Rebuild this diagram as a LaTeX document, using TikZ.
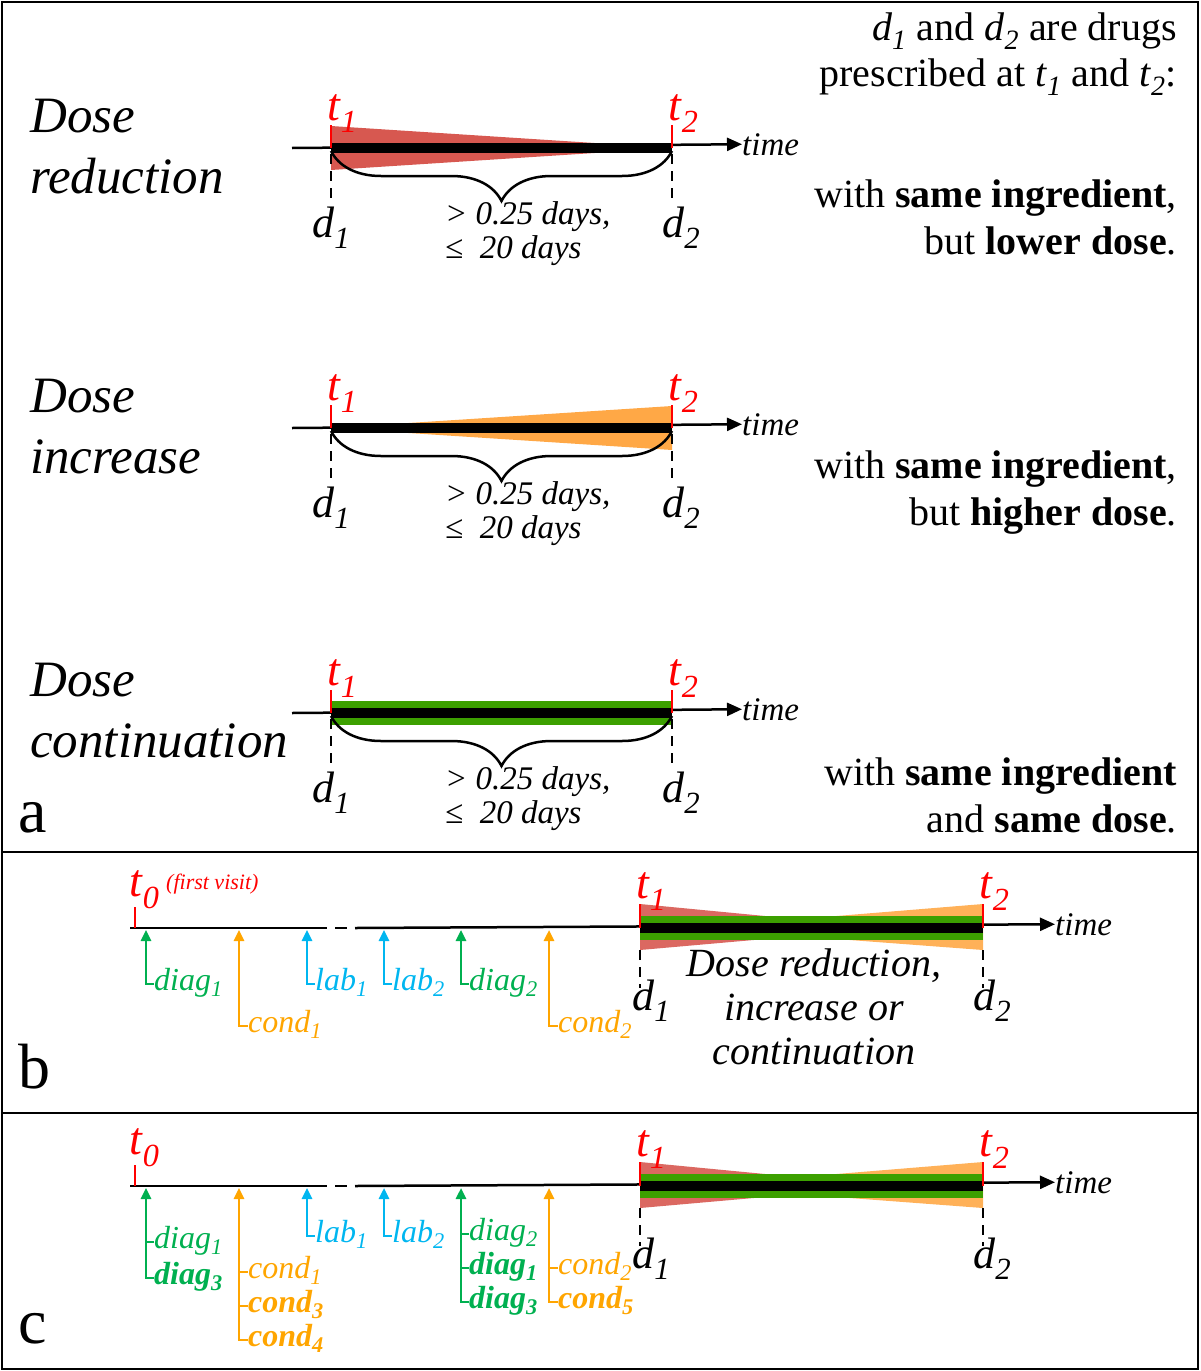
\documentclass[tikz,border=0pt]{standalone}
\usepackage{fontspec}
\setmainfont{Liberation Serif}
\usetikzlibrary{arrows.meta, positioning, decorations.pathreplacing}
\definecolor{tred}{RGB}{255,0,0}
\definecolor{wedgered}{RGB}{215,88,80}
\definecolor{wedgeorange}{RGB}{255,168,70}
\definecolor{bargreen}{RGB}{60,160,0}
\definecolor{dgreen}{RGB}{0,176,80}
\definecolor{corange}{RGB}{255,165,0}
\definecolor{lblue}{RGB}{0,182,240}
\newcommand{\fsz}[2]{\fontsize{#1}{#2}\selectfont}
\newcommand{\isub}[2]{\textit{#1}\textsubscript{\textit{#2}}}
\newcommand{\bsub}[2]{\textbf{\textit{#1}}\textsubscript{\textbf{\textit{#2}}}}
\tikzstyle{frame} = [draw, line width=2.5pt]
\tikzstyle{timeaxis} = [draw, line width=2.5pt, -{Triangle[length=15pt,width=13pt]}]
\tikzstyle{tbar} = [draw=tred, line width=2.5pt]
\tikzstyle{dropline} = [draw, line width=2.5pt, dash pattern=on 10pt off 7pt]
\tikzstyle{dosebar} = [draw, line width=10pt]
\tikzstyle{gapbrace} = [draw, line width=2.5pt, decorate, decoration={brace, mirror, amplitude=50pt}]
\tikzstyle{tlabel} = [text=tred, inner sep=0pt, anchor=base west, font=\fsz{46}{50}]
\tikzstyle{dlabel} = [inner sep=0pt, anchor=base west, font=\fsz{44}{50}]
\tikzstyle{timelabel} = [inner sep=0pt, anchor=base west, font=\fsz{33}{40}\itshape]
\tikzstyle{rowtitle} = [inner sep=0pt, anchor=base west, align=left, font=\fsz{51}{61}\itshape]
\tikzstyle{note} = [inner sep=0pt, anchor=base east, align=right, font=\fsz{40}{47}]
\tikzstyle{gaptext} = [inner sep=0pt, anchor=base west, align=left, font=\fsz{33}{34}\itshape]
\tikzstyle{event} = [inner sep=0pt, anchor=west, text height=22pt, text depth=10pt, font=\fsz{32}{34}\itshape]
\tikzstyle{eventarrow} = [draw, line width=2.5pt, -{Triangle[length=11pt,width=10pt]}]
\tikzstyle{stub} = [draw, line width=2.5pt]
\tikzstyle{panel} = [inner sep=0pt, anchor=base west, font=\fsz{64}{70}]

\begin{document}
\begin{tikzpicture}[x=1pt,y=-1pt]
\useasboundingbox (0,0) rectangle (1200,1371);
\draw[frame] (2,2) rectangle (1198,852);
\draw[frame] (2,852) rectangle (1198,1113);
\draw[frame] (2,1113) rectangle (1198,1369);

\node[note, font=\fsz{40}{46}] (anote) at (1177,86) {\isub{d}{1} and \isub{d}{2} are drugs\\prescribed at \isub{t}{1} and \isub{t}{2}:};
\node[panel] (apanel) at (18,832) {a};

\node[rowtitle] (redtitle) at (30,193) {Dose\\reduction};
\coordinate (reds) at (331,148);
\coordinate (rede) at (672,148);
\node[timelabel] (redtime) at (742,155) {time};
\draw[timeaxis] (292,148) -- (redtime.west);
\fill[wedgered] (331,126) -- (331,170) -- (672,148) -- cycle;
\draw[dosebar] (reds) -- (rede);
\draw[tbar] (reds) -- ++(0,-23);
\draw[tbar] (rede) -- ++(0,-23);
\node[tlabel] (redt1) at (327,120) {\isub{t}{1}};
\node[tlabel] (redt2) at (668,120) {\isub{t}{2}};
\draw[dropline] (reds) ++(0,6) -- ++(0,48);
\draw[dropline] (rede) ++(0,6) -- ++(0,48);
\draw[gapbrace] ([yshift=-3pt]reds) -- ([yshift=-3pt]rede);
\node[dlabel] (redd1) at (312,237) {\isub{d}{1}};
\node[dlabel] (redd2) at (662,237) {\isub{d}{2}};
\node[gaptext] (redgap) at (445,258) {> 0.25 days,\\≤\ \ 20 days};
\node[note] (rednote) at (1177,254) {with \textbf{same ingredient},\\but \textbf{lower dose}.};

\node[rowtitle] (inctitle) at (30,473) {Dose\\increase};
\coordinate (incs) at (331,428);
\coordinate (ince) at (672,428);
\node[timelabel] (inctime) at (742,435) {time};
\draw[timeaxis] (292,428) -- (inctime.west);
\fill[wedgeorange] (672,406) -- (672,450) -- (331,428) -- cycle;
\draw[dosebar] (incs) -- (ince);
\draw[tbar] (incs) -- ++(0,-23);
\draw[tbar] (ince) -- ++(0,-23);
\node[tlabel] (inct1) at (327,400) {\isub{t}{1}};
\node[tlabel] (inct2) at (668,400) {\isub{t}{2}};
\draw[dropline] (incs) ++(0,6) -- ++(0,48);
\draw[dropline] (ince) ++(0,6) -- ++(0,48);
\draw[gapbrace] ([yshift=-3pt]incs) -- ([yshift=-3pt]ince);
\node[dlabel] (incd1) at (312,517) {\isub{d}{1}};
\node[dlabel] (incd2) at (662,517) {\isub{d}{2}};
\node[gaptext] (incgap) at (445,538) {> 0.25 days,\\≤\ \ 20 days};
\node[note] (incnote) at (1177,525) {with \textbf{same ingredient},\\but \textbf{higher dose}.};

\node[rowtitle] (contitle) at (30,757) {Dose\\continuation};
\coordinate (cons) at (331,713);
\coordinate (cone) at (672,713);
\node[timelabel] (contime) at (742,720) {time};
\draw[timeaxis] (292,713) -- (contime.west);
\fill[bargreen] (331,701) rectangle (672,725);
\draw[dosebar] (cons) -- (cone);
\draw[tbar] (cons) -- ++(0,-23);
\draw[tbar] (cone) -- ++(0,-23);
\node[tlabel] (cont1) at (327,685) {\isub{t}{1}};
\node[tlabel] (cont2) at (668,685) {\isub{t}{2}};
\draw[dropline] (cons) ++(0,6) -- ++(0,48);
\draw[dropline] (cone) ++(0,6) -- ++(0,48);
\draw[gapbrace] ([yshift=-3pt]cons) -- ([yshift=-3pt]cone);
\node[dlabel] (cond1) at (312,802) {\isub{d}{1}};
\node[dlabel] (cond2) at (662,802) {\isub{d}{2}};
\node[gaptext] (congap) at (445,823) {> 0.25 days,\\≤\ \ 20 days};
\node[note] (connote) at (1177,832) {with \textbf{same ingredient}\\and \textbf{same dose}.};

% b
\node[panel] (bpanel) at (18,1088) {b};
\coordinate (bt0) at (135,928);
\coordinate (bs) at (640,928);
\coordinate (be) at (983,928);
\node[timelabel] (btime) at (1055,935) {time};
\draw[line width=2.5pt] (130,928) -- (327,928) (335,928) -- (347,928);
\draw[timeaxis] (355,928) -- (btime.west);
\fill[wedgered, opacity=.9] (640,904) -- (640,950) -- (890,928) -- cycle;
\fill[wedgeorange, opacity=.9] (983,904) -- (983,950) -- (690,928) -- cycle;
\fill[bargreen] (640,916) rectangle (983,940);
\draw[dosebar] (bs) -- (be);
\draw[tbar] (bt0) -- ++(0,-21);
\draw[tbar] (bs) -- ++(0,-24);
\draw[tbar] (be) -- ++(0,-24);
\node[tlabel] (bt0lbl) at (129,896) {\isub{t}{0}};
\node[inner sep=0pt, anchor=base west, text=tred, font=\fsz{22}{26}\itshape] (bvisit) at (166,889) {(first visit)};
\node[tlabel] (bt1) at (636,898) {\isub{t}{1}};
\node[tlabel] (bt2) at (979,898) {\isub{t}{2}};
\draw[dropline] (bs) ++(0,22) -- ++(0,38);
\draw[dropline] (be) ++(0,22) -- ++(0,38);
\node[dlabel] (bd1) at (632,1010) {\isub{d}{1}};
\node[dlabel] (bd2) at (973,1010) {\isub{d}{2}};
\node[inner sep=0pt, anchor=base, align=center, font=\fsz{40}{44}\itshape] (bchange) at (814,1064) {Dose reduction,\\increase or\\continuation};
\coordinate (bx1) at (146,930);
\coordinate (bx2) at (239,930);
\coordinate (bx3) at (307,930);
\coordinate (bx4) at (384,930);
\coordinate (bx5) at (461,930);
\coordinate (bx6) at (549,930);
\node[event, text=dgreen] (bdiag1) at (154,984) {\isub{diag}{1}};
\node[event, text=corange] (bcond1) at (248,1026) {\isub{cond}{1}};
\node[event, text=lblue] (blab1) at (315,984) {\isub{lab}{1}};
\node[event, text=lblue] (blab2) at (392,984) {\isub{lab}{2}};
\node[event, text=dgreen] (bdiag2) at (469,984) {\isub{diag}{2}};
\node[event, text=corange] (bcond2) at (558,1026) {\isub{cond}{2}};
\draw[eventarrow, dgreen] (bdiag1.west) -| (bx1);
\draw[eventarrow, corange] (bcond1.west) -| (bx2);
\draw[eventarrow, lblue] (blab1.west) -| (bx3);
\draw[eventarrow, lblue] (blab2.west) -| (bx4);
\draw[eventarrow, dgreen] (bdiag2.west) -| (bx5);
\draw[eventarrow, corange] (bcond2.west) -| (bx6);

% c
\node[panel] (cpanel) at (18,1343) {c};
\coordinate (ct0) at (135,1186);
\coordinate (cs) at (640,1186);
\coordinate (ce) at (983,1186);
\node[timelabel] (ctime) at (1055,1193) {time};
\draw[line width=2.5pt] (130,1186) -- (327,1186) (335,1186) -- (347,1186);
\draw[timeaxis] (355,1186) -- (ctime.west);
\fill[wedgered, opacity=.9] (640,1162) -- (640,1208) -- (890,1186) -- cycle;
\fill[wedgeorange, opacity=.9] (983,1162) -- (983,1208) -- (690,1186) -- cycle;
\fill[bargreen] (640,1174) rectangle (983,1198);
\draw[dosebar] (cs) -- (ce);
\draw[tbar] (ct0) -- ++(0,-21);
\draw[tbar] (cs) -- ++(0,-24);
\draw[tbar] (ce) -- ++(0,-24);
\node[tlabel] (ct0lbl) at (129,1154) {\isub{t}{0}};
\node[tlabel] (ct1) at (636,1156) {\isub{t}{1}};
\node[tlabel] (ct2) at (979,1156) {\isub{t}{2}};
\draw[dropline] (cs) ++(0,22) -- ++(0,38);
\draw[dropline] (ce) ++(0,22) -- ++(0,38);
\node[dlabel] (cd1) at (632,1268) {\isub{d}{1}};
\node[dlabel] (cd2) at (973,1268) {\isub{d}{2}};
\coordinate (cx1) at (146,1188);
\coordinate (cx2) at (239,1188);
\coordinate (cx3) at (307,1188);
\coordinate (cx4) at (384,1188);
\coordinate (cx5) at (461,1188);
\coordinate (cx6) at (549,1188);
\node[event, text=dgreen] (cdiagA) at (154,1242) {\isub{diag}{1}};
\node[event, text=dgreen] (cdiagB) at (154,1278) {\bsub{diag}{3}};
\node[event, text=corange] (ccondA) at (248,1272) {\isub{cond}{1}};
\node[event, text=corange] (ccondB) at (248,1306) {\bsub{cond}{3}};
\node[event, text=corange] (ccondC) at (248,1340) {\bsub{cond}{4}};
\node[event, text=lblue] (clab1) at (315,1236) {\isub{lab}{1}};
\node[event, text=lblue] (clab2) at (392,1236) {\isub{lab}{2}};
\node[event, text=dgreen] (cdiagC) at (469,1234) {\isub{diag}{2}};
\node[event, text=dgreen] (cdiagD) at (469,1268) {\bsub{diag}{1}};
\node[event, text=dgreen] (cdiagE) at (469,1302) {\bsub{diag}{3}};
\node[event, text=corange] (ccondD) at (558,1268) {\isub{cond}{2}};
\node[event, text=corange] (ccondE) at (558,1302) {\bsub{cond}{5}};
\draw[eventarrow, dgreen] (cdiagB.west) -| (cx1);
\draw[stub, dgreen] (cdiagA.west) -- (cdiagA.west -| cx1);
\draw[eventarrow, corange] (ccondC.west) -| (cx2);
\draw[stub, corange] (ccondA.west) -- (ccondA.west -| cx2);
\draw[stub, corange] (ccondB.west) -- (ccondB.west -| cx2);
\draw[eventarrow, lblue] (clab1.west) -| (cx3);
\draw[eventarrow, lblue] (clab2.west) -| (cx4);
\draw[eventarrow, dgreen] (cdiagE.west) -| (cx5);
\draw[stub, dgreen] (cdiagC.west) -- (cdiagC.west -| cx5);
\draw[stub, dgreen] (cdiagD.west) -- (cdiagD.west -| cx5);
\draw[eventarrow, corange] (ccondE.west) -| (cx6);
\draw[stub, corange] (ccondD.west) -- (ccondD.west -| cx6);
\end{tikzpicture}
\end{document}
